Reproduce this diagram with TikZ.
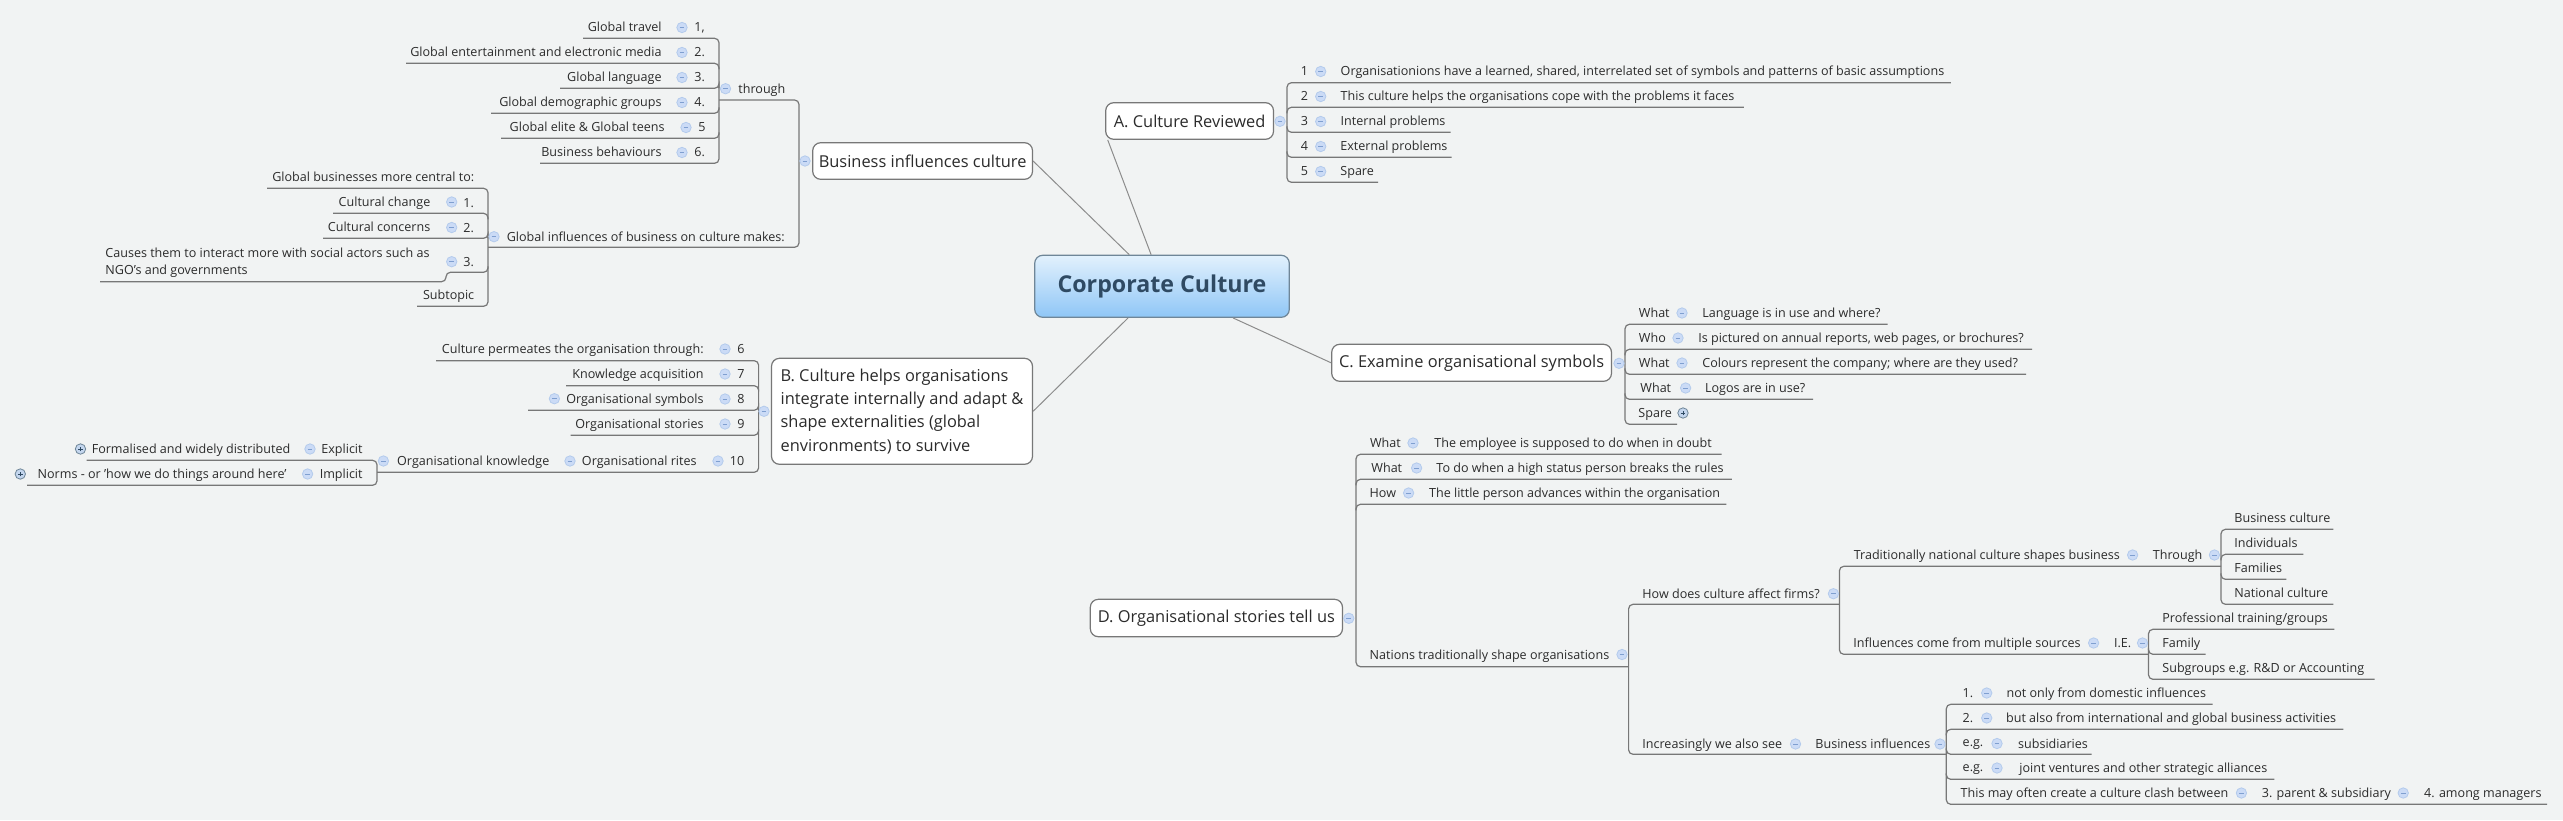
\documentclass[tikz,border=0pt]{standalone}
\usepackage{fontspec}
\setmainfont{Open Sans}
\definecolor{paper}{HTML}{F1F3F3}
\definecolor{branchgray}{HTML}{777777}
\definecolor{spokegray}{HTML}{8C8C8C}
\definecolor{inkgray}{HTML}{2B2B2B}
\definecolor{rootink}{HTML}{2F4A63}
\definecolor{rootline}{HTML}{6F8698}
\definecolor{rootlight}{HTML}{E2F1FD}
\definecolor{rootdark}{HTML}{8FC6F6}
\definecolor{iconfill}{HTML}{CBDBF6}
\definecolor{iconline}{HTML}{B4CBEC}
\definecolor{iconbar}{HTML}{7F9FD0}
\definecolor{plusfill}{HTML}{C4D6EE}
\tikzset{
  branch/.style={draw=branchgray,line width=0.6pt,rounded corners=2.2pt},
  spoke/.style={draw=spokegray,line width=0.5pt},
  leaf/.style={inner sep=0pt,yshift=-0.6pt,text=inkgray,font=\fontsize{6.28}{8.3}\selectfont,text height=4.7pt,text depth=1.3pt},
  topicbox/.style={draw=branchgray,fill=white,line width=0.6pt,rounded corners=4pt,inner sep=0pt,text=inkgray,font=\fontsize{8.2}{11.6}\selectfont},
  collapse/.style={circle,draw=iconline,fill=iconfill,line width=0.4pt,minimum size=5.2pt,inner sep=0pt,
    path picture={\draw[iconbar,line width=0.4pt] ([xshift=-1.2pt]path picture bounding box.center) -- ([xshift=1.2pt]path picture bounding box.center);}},
  expand/.style={circle,draw=rootline,fill=plusfill,line width=0.4pt,minimum size=5.2pt,inner sep=0pt,
    path picture={\draw[rootink,line width=0.4pt] ([xshift=-1.2pt]path picture bounding box.center) -- ([xshift=1.2pt]path picture bounding box.center);
      \draw[rootink,line width=0.4pt] ([yshift=-1.2pt]path picture bounding box.center) -- ([yshift=1.2pt]path picture bounding box.center);}}
}
\begin{document}
\begin{tikzpicture}[x=0.5pt,y=-0.5pt]
    \fill[paper] (0,0) rectangle (2563,820);
    \useasboundingbox (0,0) rectangle (2563,820);
    % Main topics
    \node[topicbox,top color=rootlight,bottom color=rootdark,draw=rootline,minimum width=127.3pt,minimum height=31pt,text=rootink,
      font=\bfseries\fontsize{11.6}{13}\selectfont] (root) at (1162,286.3) {Corporate Culture};
    \node[topicbox,minimum width=83.9pt,minimum height=18.3pt] (reviewed) at (1189.6,121) {A. Culture Reviewed};
    \node[topicbox,minimum width=109.9pt,minimum height=18.3pt] (business) at (922.6,161) {Business influences culture};
    \node[topicbox,minimum width=130.5pt,minimum height=53pt,align=left] (helps) at (902,411.3) {B. Culture helps organisations\\integrate internally and adapt \&\\shape externalities (global\\environments) to survive};
    \node[topicbox,minimum width=139.9pt,minimum height=18.5pt] (symbols) at (1471.6,362.8) {C. Examine organisational symbols};
    \node[topicbox,minimum width=126.1pt,minimum height=18.7pt] (stories) at (1216.4,618) {D. Organisational stories tell us};
    % Spokes
    \draw[spoke] (root.136.8) -- (business.east);
    \draw[spoke] (root.109.5) -- (reviewed.193.3);
    \draw[spoke] (root.223.2) -- (helps.east);
    \draw[spoke] (root.-24.5) -- (symbols.west);
    % Row ends
    \foreach \id/\xa/\xb/\y in {g1/719/583/38.3,g2/719/406/63.3,g3/719/560/88.3,g4/719/491/113.3,g5/719/501/138.3,g6/719/540/163.3,
      thr/799/719/100,inf/799/488/247.3,
      h1/488/267/188.3,h2/488/333/213.3,h3/488/323/238.3,h4/488/446/272.3,h5/488/417/306.3,
      b1/758.6/436/360.7,b2/758.6/566/385.7,b3/758.6/528/410.3,b4/758.6/570.7/435.3,b5/758.6/377/472.3,
      k1/377/86.5/460.3,k2/377/27/485.3,
      a1/1287/1950.8/82.7,a2/1287/1743.8/107.3,a3/1287/1450.5/132.3,a4/1287/1451.7/157.3,a5/1287/1378/182.3,
      c1/1625/1887.7/324.3,c2/1625/2032/349.3,c3/1625/2026/374.3,c4/1625/1813/399.3,c5/1625/1677/424.3,
      d1/1356/1721.5/454.3,d2/1356/1731.8/479.3,d3/1356/1726.4/504.3,d4/1356/1628.6/666.7,
      n1/1628.6/1839.4/604.3,n2/1628.6/1946.3/754.3,
      t1/1839.4/2221/566.3,t2/1839.4/2148.5/654.3,
      r1/2221/2333.3/529.3,r2/2221/2303.3/554.3,r3/2221/2286.4/579.3,r4/2221/2333.3/604.3,
      p1/2148.5/2334.3/629.3,p2/2148.5/2205.5/654.3,p3/2148.5/2374.7/679.3,
      q1/1946.3/2212.5/704.3,q2/1946.3/2343.3/729.3,q3/1946.3/2091.6/754.3,q4/1946.3/2274.4/779.3,q5/1946.3/2547/804.3}{
      \coordinate (\id s) at (\xa,\y);
      \coordinate (\id e) at (\xb,\y);
    }
    \coordinate (h4c) at (446,281.7);
    \coordinate (h4f) at (100,281.7);
    % Brackets
    \foreach \a/\b in {g1/g6,thr/inf,h1/h5,b1/b5,k1/k2,a1/a5,c1/c5,d1/d4,n1/n2,t1/t2,r1/r4,p1/p3,q1/q5}
      \draw[branch] (\a e) -- (\a s) -- (\b s) -- (\b e);
    \foreach \m/\bend in {g2/-3,g3/0,g4/3,g5/3,h2/-3,h3/0,b2/-3,b3/0,b4/3,a2/-3,a3/3,a4/3,c2/-3,c3/3,c4/3,d2/-3,d3/-3,r2/-3,r3/3,p2/3,q2/-3,q3/3,q4/3}
      \draw[branch] ([yshift=\bend pt]\m s) -- (\m s) -- (\m e);
    \draw[branch] ([yshift=3pt]h4s) -- (h4s) -- (h4e) -- (h4c) -- (h4f);
    % Texts on the left
    \foreach \id/\anc/\x/\y/\txt in {
      tgt/east/662/26.8/{Global travel},tge/east/662/51.8/{Global entertainment and electronic media},tgl/east/662/76.8/{Global language},
      tgd/east/662/101.8/{Global demographic groups},tgg/east/665/126.8/{Global elite \& Global teens},tgb/east/662/151.8/{Business behaviours},
      ng1/west/694/26.8/{1,},ng2/west/694/51.8/{2.},ng3/west/694/76.8/{3.},ng4/west/694/101.8/{4.},ng5/west/698/126.8/{5},ng6/west/694/151.8/{6.},
      tthr/west/738/88.5/{through},tinf/west/506.4/236.5/{Global influences of business on culture makes:},
      tcen/east/474.6/177/{Global businesses more central to:},tchg/east/430.7/201.8/{Cultural change},tcon/east/430.7/226.8/{Cultural concerns},
      nh2/west/463/202.5/{1.},nh3/west/463/227.5/{2.},nh4/west/463/261.7/{3.},tsub/east/474.6/294.8/{Subtopic},
      tper/east/704/349/{Culture permeates the organisation through:},tkno/east/704/374/{Knowledge acquisition},tsym/east/704/399/{Organisational symbols},
      tsto/east/704/423.8/{Organisational stories},trit/east/697/460.7/{Organisational rites},tknw/east/549.7/460.7/{Organisational knowledge},
      nb1/west/737/349/{6},nb2/west/737/374/{7},nb3/west/737/399/{8},nb4/west/737/424/{9},nb5/west/729.5/461/{10},
      texp/east/363/448.8/{Explicit},timp/east/363/473.8/{Implicit},tfor/east/290.7/448.8/{Formalised and widely distributed},tnor/east/287/473.8/{Norms - or 'how we do things around here'}}
      \node[leaf,anchor=\anc] (\id) at (\x,\y) {\txt};
    \node[inner sep=0pt,anchor=north west,align=left,text=inkgray,font=\fontsize{6.28}{8.3}\selectfont] (tcau) at (105,247.8) {Causes them to interact more with social actors such as\\NGO's and governments};
    % Texts on the right
    \foreach \id/\x/\y/\txt in {
      na1/1300.5/71.2/{1},na2/1300.5/96/{2},na3/1300.5/121/{3},na4/1300.5/146/{4},na5/1300.5/171/{5},
      ta1/1340.3/70.7/{Organisationions have a learned, shared, interrelated set of symbols and patterns of basic assumptions},
      ta2/1340.3/95.5/{This culture helps the organisations cope with the problems it faces},ta3/1340.3/120.5/{Internal problems},
      ta4/1340/145.5/{External problems},ta5/1340/170.5/{Spare},
      wc1/1638.5/313/{What},wc2/1638.5/338/{Who},wc3/1638.5/363/{What},wc4/1640/388/{What},wc5/1638/412.5/{Spare},
      tc1/1702/312.5/{Language is in use and where?},tc2/1697.9/337.5/{Is pictured on annual reports, web pages, or brochures?},
      tc3/1702/362.5/{Colours represent the company; where are they used?},tc4/1704.6/387.5/{Logos are in use?},
      wd1/1369.7/443/{What},wd2/1371/468/{What},wd3/1369.3/493/{How},
      td1/1434/442.5/{The employee is supposed to do when in doubt},td2/1436/467.5/{To do when a high status person breaks the rules},
      td3/1428.7/492.5/{The little person advances within the organisation},td4/1369.3/654.5/{Nations traditionally shape organisations},
      tn1/1642/593.5/{How does culture affect firms?},tn2/1642/743.5/{Increasingly we also see},tbi/1815/743.5/{Business influences},
      tt1/1853.4/554.5/{Traditionally national culture shapes business},tthg/2152.5/554.5/{Through},
      tt2/1853/642.5/{Influences come from multiple sources},tie/2113.6/643/{I.E.},
      tr1/2234/518/{Business culture},tr2/2234/543/{Individuals},tr3/2234/568/{Families},tr4/2234/593/{National culture},
      tp1/2162/617.5/{Professional training/groups},tp2/2162/642.5/{Family},tp3/2162/667.5/{Subgroups e.g. R\&D or Accounting},
      wq1/1962.3/693/{1.},wq2/1962.3/718/{2.},wq3/1962.3/741.5/{e.g.},wq4/1962.3/766.5/{e.g.},
      tq1/2006.2/692.5/{not only from domestic influences},tq2/2005.7/717.5/{but also from international and global business activities},
      tq3/2017.7/743.5/{subsidiaries},tq4/2019/767.5/{joint ventures and other strategic alliances},
      tq5/1960.3/792.5/{This may often create a culture clash between},tpar/2261.4/792.5/{3. parent \& subsidiary},tman/2423.7/792.5/{4. among managers}}
      \node[leaf,anchor=west] (\id) at (\x,\y) {\txt};
    % Fold marks
    \foreach \id/\x/\y in {ig1/682/27.5,ig2/682/52.5,ig3/682/77.5,ig4/682/102.5,ig5/686/127.5,ig6/682/152.5,ithr/725.5/88.7,iinf/494/236.7,ibiz/805/161,
      ih2/451.7/202,ih3/451.7/227.5,ih4/451.7/261.7,ib1/725/349,ib2/725/374,ib3/725/399,ib4/725/424,ib5/718/461,isym/554.4/398.7,irit/570/461,
      iknw/383.4/461,iexp/310/449,iimp/307.6/474,ihelp/764/411.3,
      irev/1280/121.3,ia1/1320.7/71.5,ia2/1320.7/96.5,ia3/1320.7/121.5,ia4/1320.7/146.5,ia5/1320.7/171.5,
      isy/1619/363.3,ic1/1682/313,ic2/1678/338,ic3/1682/363,ic4/1685.6/388,
      isto/1348.8/618.3,id1/1413/443,id2/1416.6/468,id3/1408.6/493,id4/1622/654.5,
      in1/1833.4/593.7,it1/2132.6/555,ithg/2214.4/555,it2/2093.6/643,iie/2142.5/643,in2/1795.5/744,ibi/1940/744,
      iq1/1986.7/693,iq2/1986.7/718,iq3/1997/743.5,iq4/1997/768,iq5/2241.4/793,ipar/2403.2/793}
      \node[collapse] (\id) at (\x,\y) {};
    \foreach \id/\x/\y in {ifor/80.5/449,inor/20.3/474,ispa/1683/413}
      \node[expand] (\id) at (\x,\y) {};
\end{tikzpicture}
\end{document}
